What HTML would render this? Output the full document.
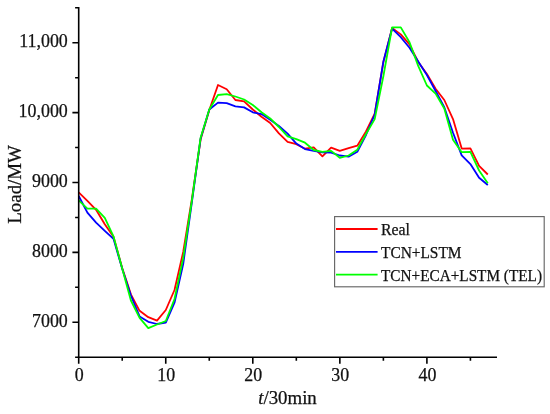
<!DOCTYPE html>
<html><head><meta charset="utf-8"><title>Load forecast chart</title>
<style>
html,body{margin:0;padding:0;background:#fff;}
body{width:550px;height:414px;overflow:hidden;}
svg{display:block;font-family:"Liberation Serif","DejaVu Serif",serif;}
.t{font-size:17.9px;fill:#111;stroke:#111;stroke-width:0.25px;}
.lg{font-size:16px;fill:#111;stroke:#111;stroke-width:0.25px;}
</style></head><body>
<svg width="550" height="414" viewBox="0 0 550 414">
<rect width="550" height="414" fill="#fff"/>
<g fill="none" stroke-width="1.8" stroke-linejoin="round" stroke-linecap="butt">
<polyline stroke="#ff0000" points="78.7,192.4 87.4,200.8 96.1,209.8 104.8,224.3 113.5,236.8 122.2,268.0 130.9,294.3 139.6,310.8 148.3,317.2 157.0,320.6 165.8,310.0 174.5,290.0 183.2,252.0 191.9,199.0 200.6,139.5 209.3,110.0 218.0,85.0 226.7,89.2 235.4,100.0 244.1,101.4 252.8,109.5 261.5,116.8 270.2,123.0 278.9,133.4 287.6,141.8 296.3,144.2 305.0,148.7 313.7,147.3 322.4,156.4 331.1,147.6 339.8,150.9 348.6,148.2 357.3,145.7 366.0,131.5 374.7,113.6 383.4,62.0 392.1,28.0 400.8,34.4 409.5,44.4 418.2,62.0 426.9,74.0 435.6,88.8 444.3,100.0 453.0,119.1 461.7,148.6 470.4,148.3 479.1,165.9 487.8,174.5"/>
<polyline stroke="#0000ff" points="78.7,196.0 87.4,212.7 96.1,222.7 104.8,230.9 113.5,238.8 122.2,268.8 130.9,295.5 139.6,316.4 148.3,321.8 157.0,324.0 165.8,322.7 174.5,302.7 183.2,264.0 191.9,202.0 200.6,138.5 209.3,109.5 218.0,102.6 226.7,103.2 235.4,106.3 244.1,107.4 252.8,112.3 261.5,114.1 270.2,119.7 278.9,126.0 287.6,133.6 296.3,143.6 305.0,149.1 313.7,150.9 322.4,152.4 331.1,152.7 339.8,155.5 348.6,156.7 357.3,151.8 366.0,135.0 374.7,114.5 383.4,61.4 392.1,28.6 400.8,37.2 409.5,47.7 418.2,61.4 426.9,75.0 435.6,91.0 444.3,107.2 453.0,132.7 461.7,155.4 470.4,164.1 479.1,177.7 487.8,185.0"/>
<polyline stroke="#00ff00" points="78.7,200.4 87.4,208.7 96.1,208.7 104.8,217.8 113.5,236.4 122.2,268.5 130.9,300.5 139.6,317.8 148.3,328.2 157.0,324.5 165.8,321.0 174.5,299.0 183.2,258.0 191.9,200.5 200.6,137.7 209.3,109.5 218.0,95.0 226.7,94.1 235.4,96.5 244.1,99.5 252.8,105.0 261.5,112.3 270.2,118.4 278.9,127.0 287.6,136.4 296.3,139.1 305.0,142.7 313.7,150.0 322.4,151.8 331.1,150.9 339.8,157.8 348.6,155.5 357.3,149.8 366.0,134.0 374.7,119.1 383.4,76.0 392.1,27.4 400.8,27.4 409.5,42.3 418.2,65.9 426.9,85.5 435.6,93.6 444.3,108.5 453.0,139.8 461.7,152.2 470.4,151.9 479.1,170.5 487.8,183.2"/>
</g>
<g stroke="#000" stroke-width="1.6" fill="none">
<path d="M78.7 7.1V358.0"/>
<path d="M77.9 357.2H497"/>
<path d="M75.1 357.20H78.7M72.4 322.26H78.7M75.1 287.32H78.7M72.4 252.38H78.7M75.1 217.44H78.7M72.4 182.50H78.7M75.1 147.56H78.7M72.4 112.62H78.7M75.1 77.68H78.7M72.4 42.74H78.7M75.1 7.80H78.7M78.70 357.2V363.7M122.22 357.2V360.7M165.75 357.2V363.7M209.27 357.2V360.7M252.80 357.2V363.7M296.32 357.2V360.7M339.85 357.2V363.7M383.38 357.2V360.7M426.90 357.2V363.7M470.42 357.2V360.7"/>
</g>
<g class="t"><text x="67.8" y="47.0" text-anchor="end">11,000</text><text x="67.8" y="116.9" text-anchor="end">10,000</text><text x="67.8" y="186.8" text-anchor="end">9000</text><text x="67.8" y="256.7" text-anchor="end">8000</text><text x="67.8" y="326.6" text-anchor="end">7000</text><text x="79.2" y="381.3" text-anchor="middle">0</text><text x="166.2" y="381.3" text-anchor="middle">10</text><text x="253.3" y="381.3" text-anchor="middle">20</text><text x="340.3" y="381.3" text-anchor="middle">30</text><text x="427.4" y="381.3" text-anchor="middle">40</text>
<text x="258.2" y="404.1" textLength="58.6" lengthAdjust="spacingAndGlyphs"><tspan font-style="italic">t</tspan>/30min</text>
<text transform="translate(20.5 223.7) rotate(-90)" font-size="18.5" textLength="78.6" lengthAdjust="spacingAndGlyphs">Load/MW</text>
</g>
<rect x="334.6" y="216.6" width="209.6" height="70.2" fill="#fff" stroke="#666" stroke-width="1.15"/>
<g stroke-width="1.8" fill="none">
<path stroke="#ff0000" d="M336 229H377.6"/>
<path stroke="#0000ff" d="M336 251.8H377.6"/>
<path stroke="#00ff00" d="M336 274.6H377.6"/>
</g>
<g class="lg">
<text x="381" y="235" textLength="29" lengthAdjust="spacingAndGlyphs">Real</text>
<text x="381" y="257.8" textLength="80.5" lengthAdjust="spacingAndGlyphs">TCN+LSTM</text>
<text x="381" y="280.6" textLength="161" lengthAdjust="spacingAndGlyphs">TCN+ECA+LSTM (TEL)</text>
</g>
</svg>
</body></html>
